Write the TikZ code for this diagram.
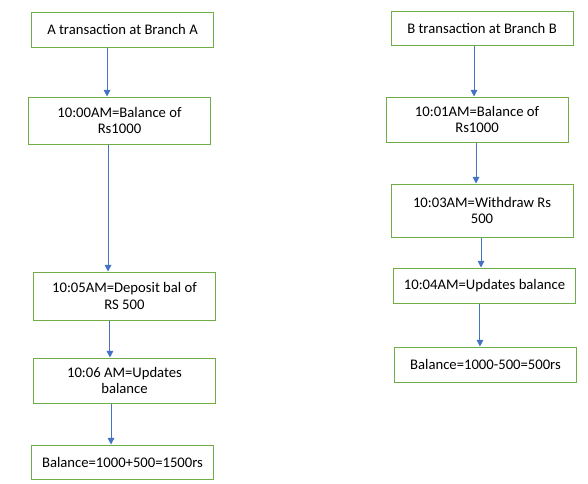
\documentclass[tikz,border=0pt]{standalone}
\usepackage{fontspec}
\setmainfont{Carlito}
\usetikzlibrary{arrows.meta}
\definecolor{boxgreen}{HTML}{70AD47}
\definecolor{arrowblue}{HTML}{4472C4}

\begin{document}
\begin{tikzpicture}[
  x=0.75pt, y=-0.75pt,
  block/.style = {
    draw=boxgreen, rectangle, line width=0.75pt,
    minimum width=136.5pt, inner sep=2pt,
    align=center,
    font=\fontsize{11}{12.5}\selectfont
  },
  link/.style = {
    draw=arrowblue, line width=0.75pt,
    -{Triangle[width=5pt,length=5pt]}
  }
]

\useasboundingbox (0,0) rectangle (588,483);

\node[block, minimum height=26.25pt] (branchA) at (122.5,29.5) {A transaction at Branch A};
\node[block, minimum height=35.25pt] (balanceA) at (119.5,120.5) {10:00AM=Balance of \\ Rs1000};
\node[block, minimum height=36pt] (deposit) at (124.5,296) {10:05AM=Deposit bal of \\ RS 500};
\node[block, minimum height=33.75pt] (updateA) at (124.5,380.5) {10:06 AM=Updates \\ balance};
\node[block, minimum height=25.5pt] (resultA) at (122.5,462) {Balance=1000+500=1500rs};

\node[block, minimum height=25.5pt] (branchB) at (482,28) {B transaction at Branch B};
\node[block, minimum height=33.75pt] (balanceB) at (477,119.5) {10:01AM=Balance of \\ Rs1000};
\node[block, minimum height=39.75pt] (withdraw) at (482,210.5) {10:03AM=Withdraw Rs \\ 500};
\node[block, minimum height=26.25pt] (updateB) at (484.5,285.5) {10:04AM=Updates balance};
\node[block, minimum height=26.25pt] (resultB) at (485.5,364.5) {Balance=1000-500=500rs};

\draw[link] ([xshift=-11.6pt]branchA.south) -- ([xshift=-11.6pt]branchA.south |- balanceA.north);
\draw[link] ([xshift=-8.6pt]balanceA.south) -- ([xshift=-8.6pt]balanceA.south |- deposit.north);
\draw[link] ([xshift=-10.9pt]deposit.south) -- ([xshift=-10.9pt]deposit.south |- updateA.north);
\draw[link] ([xshift=-10.1pt]updateA.south) -- ([xshift=-10.1pt]updateA.south |- resultA.north);

\draw[link] ([xshift=-6pt]branchB.south) -- ([xshift=-6pt]branchB.south |- balanceB.north);
\draw[link] ([xshift=-0.75pt]balanceB.south) -- ([xshift=-0.75pt]balanceB.south |- withdraw.north);
\draw[link] ([xshift=-0.75pt]withdraw.south) -- ([xshift=-0.75pt]withdraw.south |- updateB.north);
\draw[link] ([xshift=-3.4pt]updateB.south) -- ([xshift=-3.4pt]updateB.south |- resultB.north);

\end{tikzpicture}
\end{document}
